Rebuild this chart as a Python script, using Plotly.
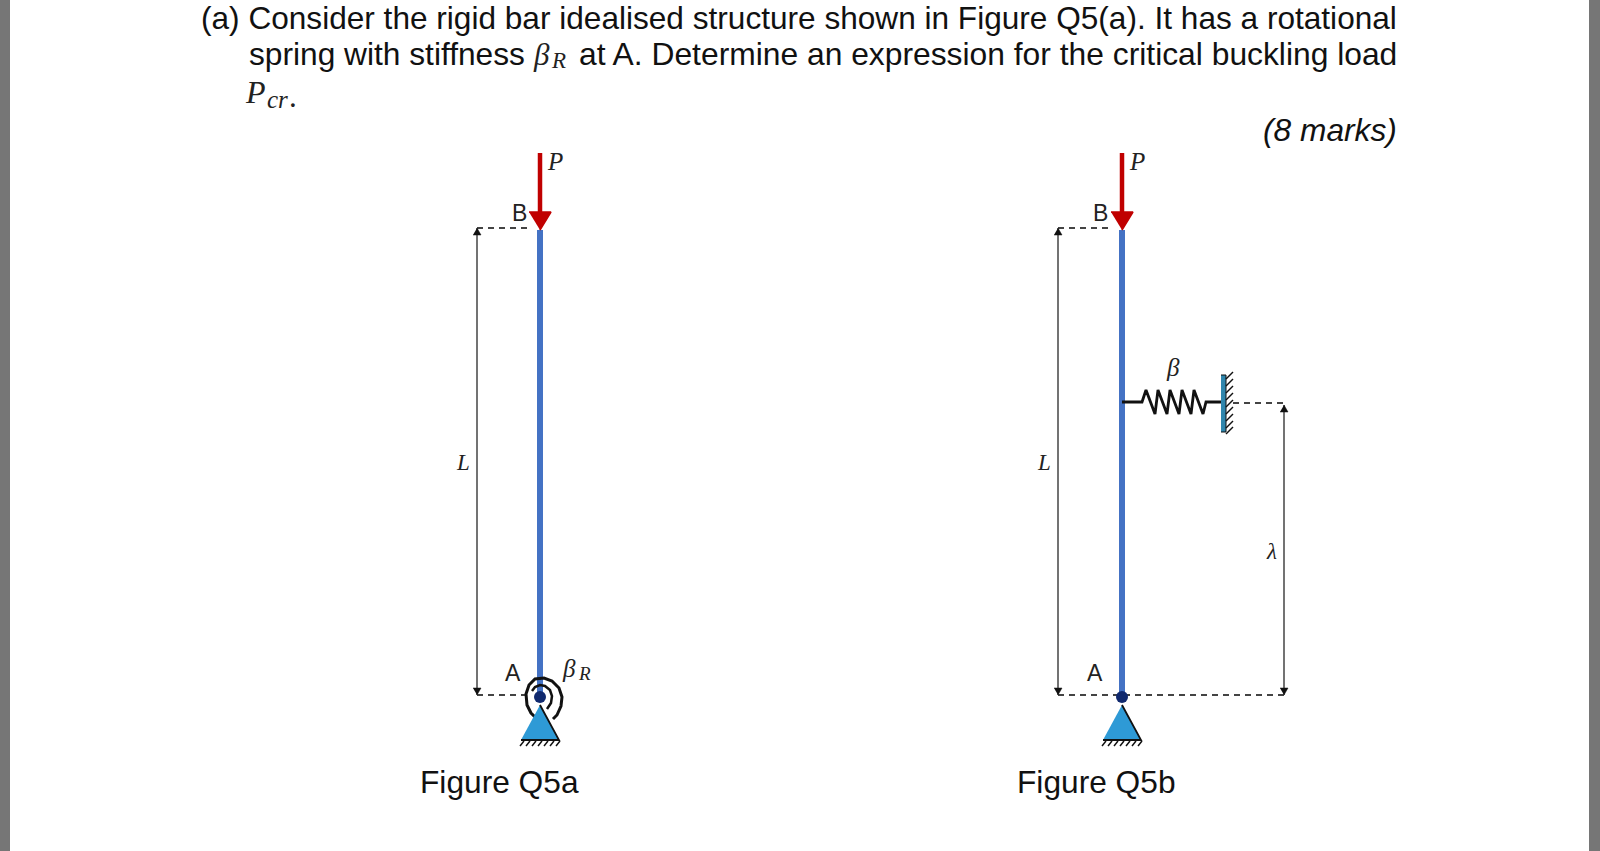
import plotly.graph_objects as go

WIDTH = 1600
HEIGHT = 851

bar_x = [540, 1122]
bar_top = 230
pivot_y = 697
bar_color = "#4472c4"

# load arrows
arrow_top = 153
arrow_head_top = 212
arrow_head_half = 11
arrow_color = "#c00000"

# supports
support_top = 705
support_base = 740
support_half = 19
hatch_offsets = [-18, -12, -6, 0, 6, 12, 18]

# dimension lines: x, top, bottom
dim_x = [477, 1058, 1284]
dim_top = [228, 228, 405]
dim_bottom = [695, 695, 695]

# dashed leaders
dash_x0 = [477, 477, 1058, 1058, 1233]
dash_x1 = [530, 526, 1112, 1284, 1284]
dash_y = [228, 695, 228, 695, 403]

# rotational spring at A in the left figure
spiral_outer_x = [553, 557, 561, 562, 559, 552, 544, 535, 529, 526, 527, 531, 535]
spiral_outer_y = [719, 715, 706, 697, 688, 681, 678, 679, 685, 694, 705, 713, 717]
spiral_inner_x = [547, 551, 552, 550, 545, 540, 535, 532]
spiral_inner_y = [709, 703, 696, 690, 686, 685, 687, 691]

# linear spring in the right figure
spring_x = [1122, 1142, 1146, 1155, 1158, 1167, 1170, 1179, 1182, 1191, 1194, 1203, 1206, 1223]
spring_y = [402, 402, 390, 414, 390, 414, 390, 414, 390, 414, 390, 414, 402, 402]

# wall
wall_x = [1221, 1226]
wall_y = [375, 432]
wall_hatch_y = [379, 386, 393, 400, 407, 414, 421, 428, 434]

# page edges
edge_left = 10
edge_right = 1589
edge_color = "#767676"

text_x = [199, 247, 577, 1399, 499, 1096]
text_y = [18, 54, 54, 130, 782, 782]
text_labels = [
    "(a) Consider the rigid bar idealised structure shown in Figure Q5(a). It has a rotational",
    "spring with stiffness",
    "at A. Determine an expression for the critical buckling load",
    "<i>(8 marks)</i>",
    "Figure Q5a",
    "Figure Q5b",
]
text_anchor = ["left", "left", "left", "right", "center", "center"]
text_size = [31.6, 31.7, 31.8, 31.7, 31.7, 31.7]

math_x = [255, 277, 293, 541, 558, 555, 463, 513, 569, 584, 1137, 1044, 1095, 1173, 1271]
math_y = [92, 99, 96, 54, 60, 161, 462, 673, 668, 673, 161, 462, 673, 367, 551]
math_labels = ["<i>P</i>", "<i>cr</i>", ".", "<i>β</i>", "<i>R</i>", "<i>P</i>", "<i>L</i>", "A",
               "<i>β</i>", "<i>R</i>", "<i>P</i>", "<i>L</i>", "A", "<i>β</i>", "<i>λ</i>"]
math_font = ["Liberation Serif"] * 7 + ["Liberation Sans"] + ["Liberation Serif"] * 4 + ["Liberation Sans"] + ["Liberation Serif"] * 2
math_size = [32, 25, 31, 31, 23, 25, 23, 23, 25, 19, 25, 23, 23, 25, 23]

b_x = [519, 1100]
b_y = [213, 213]


def line(fig, xs, ys, color="#111111", width=1.5, dash="solid"):
    fig.add_trace(go.Scatter(x=xs, y=ys, mode="lines", hoverinfo="skip",
                             line=dict(color=color, width=width, dash=dash)))


def poly(fig, xs, ys, fill, outline=None, width=1.5):
    fig.add_trace(go.Scatter(x=xs, y=ys, mode="lines", fill="toself", fillcolor=fill, hoverinfo="skip",
                             line=dict(color=outline or fill, width=width)))


fig = go.Figure()

# page edges
poly(fig, [0, edge_left, edge_left, 0], [0, 0, HEIGHT, HEIGHT], edge_color, width=0)
poly(fig, [edge_right, WIDTH, WIDTH, edge_right], [0, 0, HEIGHT, HEIGHT], edge_color, width=0)

# dashed leaders
for x0, x1, y in zip(dash_x0, dash_x1, dash_y):
    line(fig, [x0, x1], [y, y], color="#444444", width=1.8, dash="6px,5px")

# dimension lines
for x, top, bottom in zip(dim_x, dim_top, dim_bottom):
    line(fig, [x, x], [top, bottom], color="#444444", width=1.5)
    poly(fig, [x - 4, x + 4, x], [top + 7, top + 7, top], "#111111", width=0.5)
    poly(fig, [x - 4, x + 4, x], [bottom - 7, bottom - 7, bottom], "#111111", width=0.5)

for x in bar_x:
    line(fig, [x, x], [bar_top, pivot_y], color=bar_color, width=6)

line(fig, spiral_outer_x, spiral_outer_y, width=3)
line(fig, spiral_inner_x, spiral_inner_y, width=2.5)

for x in bar_x:
    # load
    line(fig, [x, x], [arrow_top, arrow_head_top], color=arrow_color, width=4.5)
    poly(fig, [x - arrow_head_half, x + arrow_head_half, x],
         [arrow_head_top, arrow_head_top, bar_top], arrow_color)
    # support and its hatching
    poly(fig, [x, x + support_half, x - support_half], [support_top, support_base, support_base],
         "#2e9ad6", outline="#111111", width=1.8)
    for off in hatch_offsets:
        line(fig, [x + off + 2, x + off - 2], [support_base + 1, support_base + 6], width=1.5)
    # pin
    fig.add_trace(go.Scatter(x=[x], y=[pivot_y], mode="markers", hoverinfo="skip",
                             marker=dict(color="#10296e", size=12)))

line(fig, spring_x, spring_y, width=2.8)
poly(fig, [wall_x[0], wall_x[1], wall_x[1], wall_x[0]], [wall_y[0], wall_y[0], wall_y[1], wall_y[1]],
     "#2f86ad", outline="#111111", width=1)
for y in wall_hatch_y:
    line(fig, [wall_x[1], wall_x[1] + 7], [y, y - 7], width=1.4)

for x, y, label, anchor, size in zip(text_x, text_y, text_labels, text_anchor, text_size):
    fig.add_annotation(x=x, y=y, text=label, xanchor=anchor, yanchor="middle", showarrow=False,
                       font=dict(family="Liberation Sans", size=size, color="#111111"))

for x, y, label, font, size in zip(math_x, math_y, math_labels, math_font, math_size):
    fig.add_annotation(x=x, y=y, text=label, xanchor="center", yanchor="middle", showarrow=False,
                       font=dict(family=font, size=size, color="#222222"))

for x, y in zip(b_x, b_y):
    fig.add_annotation(x=x, y=y, text="B", xanchor="center", yanchor="middle", showarrow=False,
                       font=dict(family="Liberation Sans", size=23, color="#222222"))

fig.update_layout(
    width=WIDTH, height=HEIGHT, showlegend=False, margin=dict(l=0, r=0, t=0, b=0),
    paper_bgcolor="white", plot_bgcolor="white",
    xaxis=dict(range=[0, WIDTH], visible=False),
    yaxis=dict(range=[HEIGHT, 0], visible=False),
)
fig.write_html("out.html", config=dict(displayModeBar=False), post_script="document.body.style.margin = '0';")
